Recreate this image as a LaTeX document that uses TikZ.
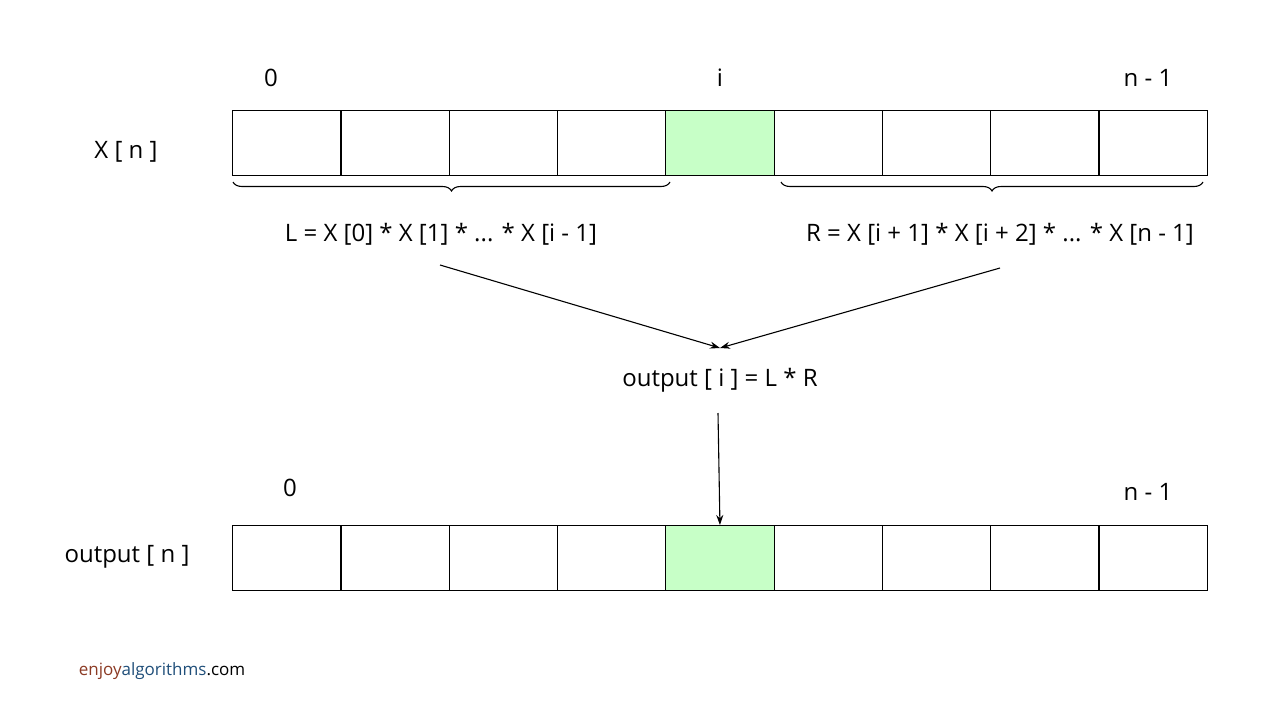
\documentclass[tikz,border=0pt]{standalone}
\usepackage{fontspec}
\setmainfont{Open Sans}
\usetikzlibrary{decorations.pathreplacing,arrows.meta}
\begin{document}
\begin{tikzpicture}[x=1pt,y=-1pt,
  cell/.style={draw,line width=1.2pt,minimum width=108.3pt,minimum height=65pt,inner sep=0pt,anchor=north west},
  hl/.style={cell,fill=green!25!white,fill=black!0!green!22!white},
  lbl/.style={font=\fontsize{24}{28}\selectfont,inner sep=0pt},
  arr/.style={-{Stealth[length=10pt,width=7pt]},line width=1.1pt},
  br/.style={decorate,decoration={brace,amplitude=9pt,mirror},line width=1.1pt}]
\useasboundingbox (0,0) rectangle (1280,720);
\foreach \i in {0,...,8}{
  \ifnum\i=4 \def\st{hl}\else\def\st{cell}\fi
  \node[\st] (t\i) at (232+108.3*\i,110) {};
  \node[\st] (b\i) at (232+108.3*\i,525) {};
}
\node[lbl] (ta) at (271,78) {0};
\node[lbl] (tb) at (720,78) {i};
\node[lbl] (tc) at (1148,78) {n - 1};
\node[lbl] (ba) at (290,488) {0};
\node[lbl] (bc) at (1148,492) {n - 1};
\node[lbl] (xn) at (126,152) {X [ n ]};
\node[lbl] (on) at (127,557) {output [ n ]};
\coordinate (l1) at (233,182); \coordinate (l2) at (670,182);
\coordinate (r1) at (781,182); \coordinate (r2) at (1203,182);
\draw[br] (l1) -- (l2);
\draw[br] (r1) -- (r2);
\node[lbl] (L) at (441,234) {L = X [0] * X [1] * ... * X [i - 1]};
\node[lbl] (R) at (1000,234) {R = X [i + 1] * X [i + 2] * ... * X [n - 1]};
\node[lbl] (O) at (720,380) {output [ i ] = L * R};
\coordinate (m) at (720,348);
\coordinate (a1) at (440,265); \coordinate (a2) at (1000,268);
\draw[arr] (a1) -- (m);
\draw[arr] (a2) -- (m);
\coordinate (d1) at (718,413);
\draw[arr] (d1) -- (b4.north);
\node[inner sep=0pt,font=\fontsize{17}{20}\selectfont] (logo) at (162,671) {\textcolor[HTML]{8B3A24}{enjoy}\textcolor[HTML]{1F4E79}{algorithms}.com};
\end{tikzpicture}
\end{document}
